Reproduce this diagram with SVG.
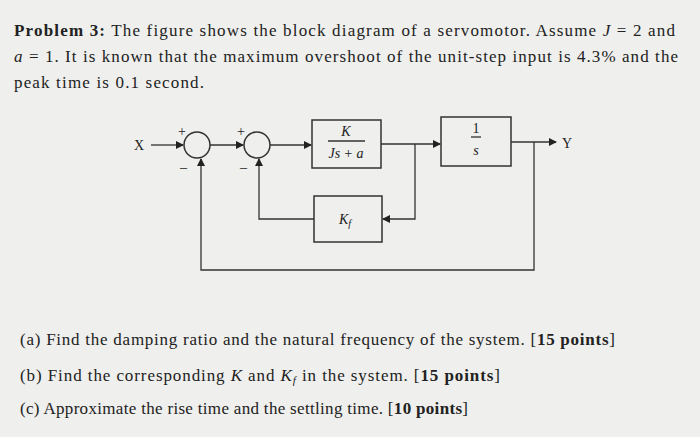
<svg xmlns="http://www.w3.org/2000/svg" width="700" height="437" viewBox="0 0 700 437">
<defs><marker id="ah" markerWidth="8" markerHeight="8" refX="7" refY="4" orient="auto" markerUnits="userSpaceOnUse"><path d="M0,0 L8,4 L0,8 z" fill="#222"/></marker></defs>
<style>
.t{font-family:"Liberation Serif",serif;font-size:17px;fill:#222}
.d{font-family:"Liberation Serif",serif;font-size:14px;fill:#222}
.i{font-style:italic}
.b{fill:none;stroke:#333;stroke-width:1.5}
.l{fill:none;stroke:#333;stroke-width:1.3}
</style>
<rect width="700" height="437" fill="#efefed"/>
<text class="t" x="14" y="36" textLength="661" lengthAdjust="spacing"><tspan font-weight="bold">Problem 3:</tspan> The figure shows the block diagram of a servomotor. Assume <tspan class="i">J</tspan> = 2 and</text>
<text class="t" x="14" y="62" textLength="664" lengthAdjust="spacing"><tspan class="i">a</tspan> = 1. It is known that the maximum overshoot of the unit-step input is 4.3% and the</text>
<text class="t" x="14" y="88" textLength="190" lengthAdjust="spacing">peak time is 0.1 second.</text>
<g id="sum1"><circle class="b" cx="197" cy="145" r="13"/><text class="d" x="178" y="136">+</text><text class="d" x="180" y="172">–</text></g>
<g id="sum2"><circle class="b" cx="257" cy="145" r="13"/><text class="d" x="237" y="136">+</text><text class="d" x="240" y="172">–</text></g>
<g id="G"><rect class="b" x="312" y="120" width="69" height="48"/><text class="d i" x="346" y="136" text-anchor="middle">K</text><line class="l" x1="328" y1="141" x2="365" y2="141"/><text class="d i" x="346" y="158" text-anchor="middle">Js + a</text></g>
<g id="I"><rect class="b" x="441" y="117" width="70" height="49"/><text class="d" x="476" y="133" text-anchor="middle">1</text><line class="l" x1="471" y1="137" x2="481" y2="137"/><text class="d i" x="476" y="155" text-anchor="middle">s</text></g>
<g id="Kf"><rect class="b" x="314" y="196" width="68" height="46"/><text class="d i" x="345" y="224" text-anchor="middle">K<tspan font-size="10" dy="3">f</tspan></text></g>
<text class="d" x="134" y="150">X</text>
<text class="d" x="562" y="148">Y</text>
<g id="connectors">
<line class="l" x1="151" y1="145" x2="183" y2="145" marker-end="url(#ah)"/>
<line class="l" x1="210" y1="145" x2="243" y2="145" marker-end="url(#ah)"/>
<line class="l" x1="270" y1="145" x2="311" y2="145" marker-end="url(#ah)"/>
<line class="l" x1="381" y1="144" x2="440" y2="144" marker-end="url(#ah)"/>
<line class="l" x1="511" y1="142" x2="556" y2="142" marker-end="url(#ah)"/>
<polyline class="l" points="415,144 415,219 383,219" marker-end="url(#ah)"/>
<polyline class="l" points="314,219 259,219 259,159" marker-end="url(#ah)"/>
<polyline class="l" points="534,142 534,270 201,270 201,159" marker-end="url(#ah)"/>
</g>
<text class="t" x="20" y="345" textLength="595" lengthAdjust="spacing">(a) Find the damping ratio and the natural frequency of the system. [<tspan font-weight="bold">15 points</tspan>]</text>
<text class="t" x="20" y="381" textLength="480" lengthAdjust="spacing">(b) Find the corresponding <tspan class="i">K</tspan> and <tspan class="i">K<tspan font-size="11" dy="3">f</tspan></tspan><tspan dy="-3"> in the system. [</tspan><tspan font-weight="bold">15 points</tspan>]</text>
<text class="t" x="20" y="414" textLength="448" lengthAdjust="spacing">(c) Approximate the rise time and the settling time. [<tspan font-weight="bold">10 points</tspan>]</text>
</svg>
